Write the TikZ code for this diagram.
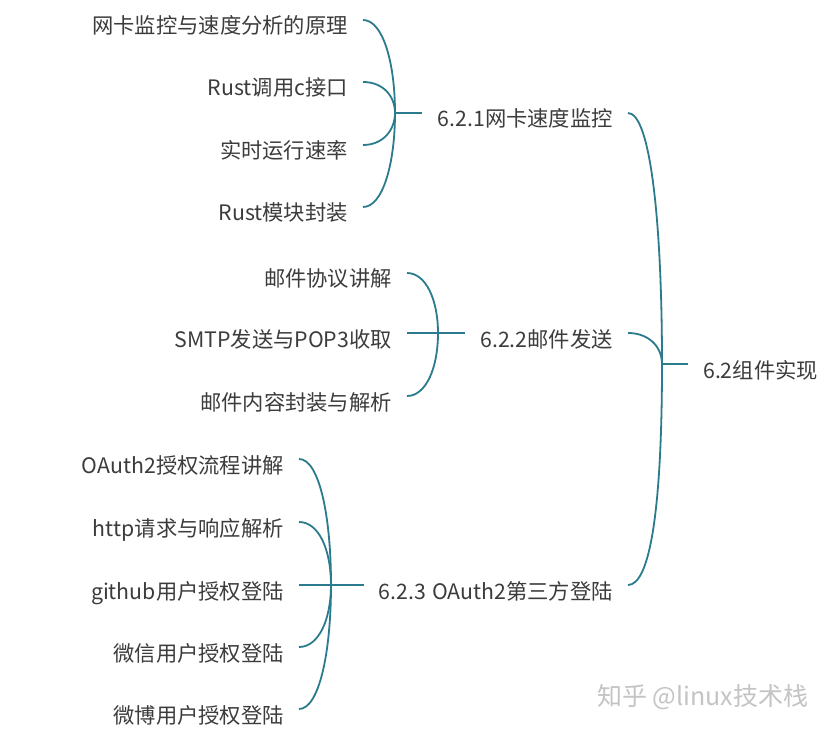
\documentclass[tikz,border=0pt]{standalone}
\usepackage{fontspec}
\setmainfont{Noto Sans CJK SC}
\definecolor{linkc}{HTML}{2A7B8D}
\definecolor{txt}{HTML}{3C3C3C}
\definecolor{wmc}{HTML}{C4C4C4}
\begin{document}
\begin{tikzpicture}[x=1pt,y=-1pt,
  lbl/.style={inner xsep=15pt, inner ysep=0pt, text height=28pt, text depth=0pt,
              font=\fontsize{21.3pt}{25pt}\selectfont, text=txt},
  link/.style={draw=linkc, line width=1.8pt}]
\useasboundingbox[fill=white] (0,0) rectangle (830,730);
% root and level 2
\node[lbl,anchor=west] (root) at (688,364) {6.2组件实现};
\node[lbl,anchor=east] (n1) at (628,113) {6.2.1网卡速度监控};
\node[lbl,anchor=east] (n2) at (628,333) {6.2.2邮件发送};
\node[lbl,anchor=east] (n3) at (628,585) {6.2.3\hspace{0.28em}OAuth2第三方登陆};
\coordinate (j0) at (662,364);
\coordinate (j1) at (395,113);
\coordinate (j2) at (438,333);
\coordinate (j3) at (331,585);
% children of 6.2.1
\node[lbl,anchor=east] (c11) at (363,20) {网卡监控与速度分析的原理};
\node[lbl,anchor=east] (c12) at (363,82) {Rust调用c接口};
\node[lbl,anchor=east] (c13) at (363,145) {实时运行速率};
\node[lbl,anchor=east] (c14) at (363,207) {Rust模块封装};
% children of 6.2.2
\node[lbl,anchor=east] (c21) at (407,273) {邮件协议讲解};
\node[lbl,anchor=east] (c22) at (407,333) {SMTP发送与POP3收取};
\node[lbl,anchor=east] (c23) at (407,396) {邮件内容封装与解析};
% children of 6.2.3
\node[lbl,anchor=east] (c31) at (299,459) {OAuth2授权流程讲解};
\node[lbl,anchor=east] (c32) at (299,522) {http请求与响应解析};
\node[lbl,anchor=east] (c33) at (299,585) {github用户授权登陆};
\node[lbl,anchor=east] (c34) at (299,647) {微信用户授权登陆};
\node[lbl,anchor=east] (c35) at (299,709) {微博用户授权登陆};
% watermark
\node[anchor=west, inner sep=0pt, font=\fontsize{25pt}{27pt}\selectfont, text=wmc] (wm) at (597,697) {知乎 @linux技术栈};
% connectors
\draw[link] (j0) -- (root.west);
\draw[link] (n1.east) .. controls +(22,0) and +(0,-145) .. (j0);
\draw[link] (n2.east) .. controls +(20,0) and +(0,-18) .. (j0);
\draw[link] (n3.east) .. controls +(22,0) and +(0,145) .. (j0);
\draw[link] (j1) -- (n1.west);
\draw[link] (j2) -- (n2.west);
\draw[link] (j3) -- (n3.west);
\draw[link] (c11.east) .. controls +(20,0) and +(0,-50) .. (j1);
\draw[link] (c12.east) .. controls +(20,0) and +(0,-17) .. (j1);
\draw[link] (c13.east) .. controls +(20,0) and +(0,17) .. (j1);
\draw[link] (c14.east) .. controls +(20,0) and +(0,50) .. (j1);
\draw[link] (c21.east) .. controls +(19,0) and +(0,-33) .. (j2);
\draw[link] (c22.east) -- (j2);
\draw[link] (c23.east) .. controls +(19,0) and +(0,35) .. (j2);
\draw[link] (c31.east) .. controls +(20,0) and +(0,-70) .. (j3);
\draw[link] (c32.east) .. controls +(20,0) and +(0,-35) .. (j3);
\draw[link] (c33.east) -- (j3);
\draw[link] (c34.east) .. controls +(20,0) and +(0,34) .. (j3);
\draw[link] (c35.east) .. controls +(20,0) and +(0,68) .. (j3);
\end{tikzpicture}
\end{document}
